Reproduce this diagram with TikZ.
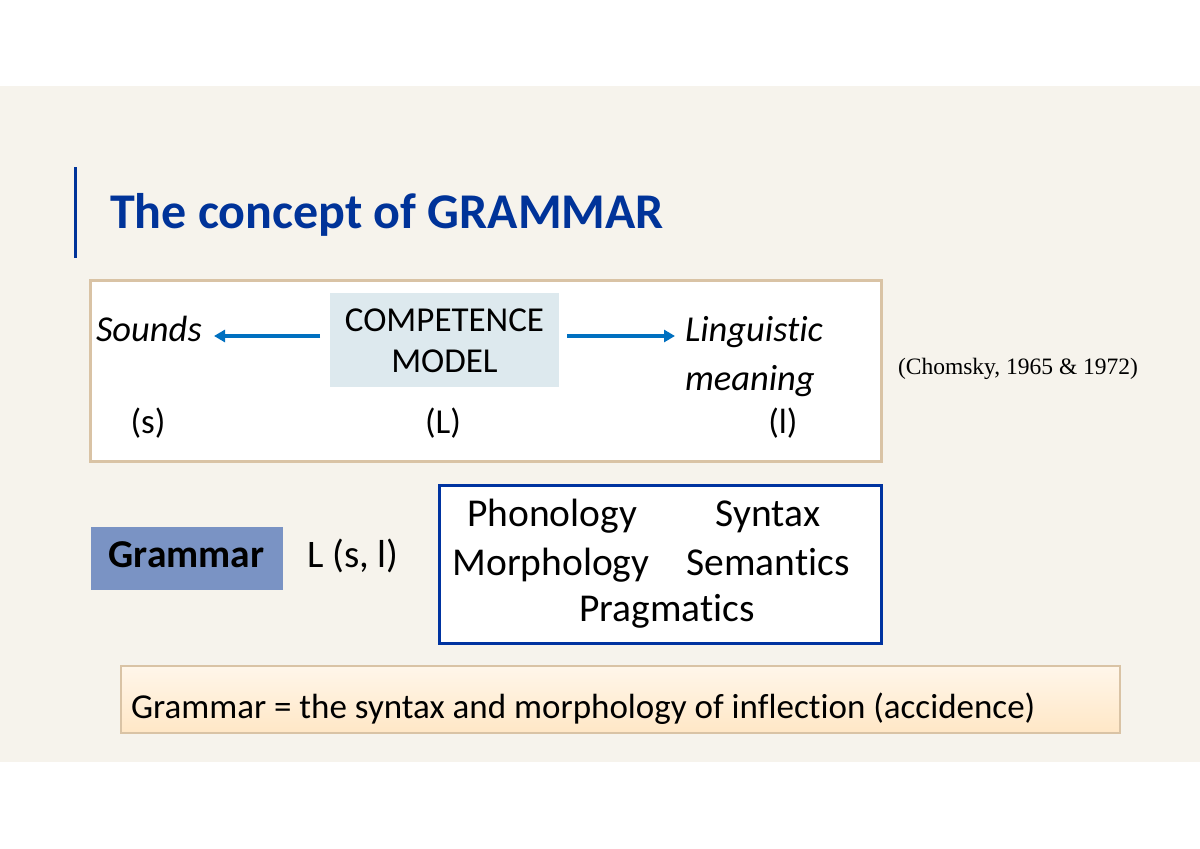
\documentclass[tikz,border=0pt]{standalone}
\usepackage{fontspec}
\setmainfont{Carlito}[RawFeature={-liga}]
\newfontfamily\timesfont{Liberation Serif}
\usetikzlibrary{arrows.meta}
\definecolor{slidebg}{RGB}{246,243,236}
\definecolor{tanline}{RGB}{217,195,165}
\definecolor{titleblue}{RGB}{0,51,153}
\definecolor{arrowblue}{RGB}{0,112,192}
\definecolor{compfill}{RGB}{221,233,238}
\definecolor{gramfill}{RGB}{122,147,196}
\definecolor{boxblue}{RGB}{0,51,160}
\definecolor{peachtop}{RGB}{255,246,234}
\definecolor{peachbot}{RGB}{255,231,198}
\newcommand{\fsz}[1]{\fontsize{#1}{#1}\selectfont}
\begin{document}
\begin{tikzpicture}[x=1pt,y=-1pt,
  txt/.style={inner sep=0pt,outer sep=0pt},
  blueflow/.style={draw=arrowblue,line width=4.2pt,-{Triangle[length=11pt,width=12pt]}}]
\useasboundingbox (0,0) rectangle (1200,849);
\fill[white] (0,0) rectangle (1200,849);
\fill[slidebg] (0,86) rectangle (1200,762);
% title
\fill[titleblue] (73.5,167) rectangle (76.5,258);
\node[txt,anchor=base west,text=titleblue,font=\fsz{50}\bfseries] (title) at (110,228) {The concept of GRAMMAR};
% top box
\draw[tanline,fill=white,line width=3pt] (90,280) rectangle (881,461);
\node[txt,fill=compfill,minimum width=229pt,minimum height=94pt] (comp) at (444.5,340) {};
\node[txt,anchor=base,font=\fsz{35}] (comp1) at (444.5,331) {COMPETENCE};
\node[txt,anchor=base,font=\fsz{35}] (comp2) at (444.5,372) {MODEL};
\node[txt,anchor=base west,font=\fsz{36.5}\itshape] (sounds) at (96,341.5) {Sounds};
\node[txt,anchor=base west,font=\fsz{36.5}\itshape] (ling) at (685,341.5) {Linguistic};
\node[txt,anchor=base west,font=\fsz{36.5}\itshape] (mean) at (685,390) {meaning};
\node[txt,anchor=base,font=\fsz{35}] (s) at (148,433) {(s)};
\node[txt,anchor=base,font=\fsz{35}] (L) at (443,433) {(L)};
\node[txt,anchor=base,font=\fsz{35}] (l) at (783,433) {(l)};
\coordinate (la) at (320,336);
\coordinate (lb) at (214,336);
\coordinate (ra) at (567,336);
\coordinate (rb) at (675,336);
\draw[blueflow] (la) -- (lb);
\draw[blueflow] (ra) -- (rb);
\node[txt,anchor=base west,font=\timesfont\fsz{23.5}] (chom) at (898,374) {(Chomsky, 1965 \& 1972)};
% grammar row
\node[txt,fill=gramfill,minimum width=192pt,minimum height=63pt] (gbox) at (187,558.5) {};
\node[txt,anchor=base,font=\fsz{39.5}\bfseries] (gram) at (186.5,567.5) {Grammar};
\node[txt,anchor=base west,font=\fsz{39}] (Lsl) at (307,567) {L (s, l)};
\draw[boxblue,fill=white,line width=3pt] (439,485) rectangle (881,643);
\node[txt,anchor=base,font=\fsz{39.5}] (phon) at (552,526.5) {Phonology};
\node[txt,anchor=base,font=\fsz{39.5}] (synt) at (768,526.5) {Syntax};
\node[txt,anchor=base,font=\fsz{39.5}] (morph) at (551,575) {Morphology};
\node[txt,anchor=base,font=\fsz{39.5}] (sem) at (768,575) {Semantics};
\node[txt,anchor=base,font=\fsz{39.5}] (prag) at (667,621.5) {Pragmatics};
% bottom box
\shade[top color=peachtop,bottom color=peachbot] (121,666) rectangle (1120,733);
\draw[tanline,line width=2.5pt] (121,666) rectangle (1120,733);
\node[txt,anchor=base west,font=\fsz{35}] (def) at (131,718.5) {Grammar = the syntax and morphology of inflection (accidence)};
\end{tikzpicture}
\end{document}
